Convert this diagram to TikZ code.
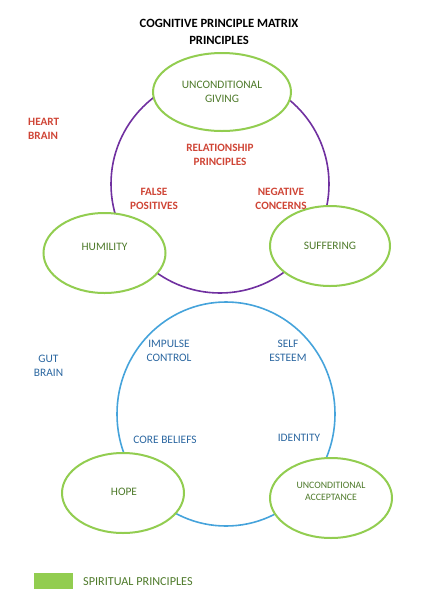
\documentclass[tikz,border=0pt]{standalone}
\usepackage{fontspec}
\setmainfont{Carlito}
\usetikzlibrary{shapes.geometric}
\definecolor{ringpurple}{HTML}{7030A0}
\definecolor{ringblue}{HTML}{45A3DB}
\definecolor{spgreen}{HTML}{92CD50}
\definecolor{txtgreen}{HTML}{4E7A2A}
\definecolor{txtred}{HTML}{CF4536}
\definecolor{txtblue}{HTML}{2A66A0}
\begin{document}
\begin{tikzpicture}[x=1pt,y=-1pt,
  lbl/.style={font=\fontsize{11.4}{14}\selectfont, align=center, inner sep=0pt},
  redlbl/.style={lbl, text=txtred, font=\fontsize{11.2}{14}\selectfont\bfseries},
  bluelbl/.style={lbl, text=txtblue},
  greenlbl/.style={lbl, text=txtgreen},
  spirit/.style={ellipse, draw=spgreen, line width=2pt, fill=white, minimum width=122pt, minimum height=80pt, inner sep=0pt},
]
\useasboundingbox (0,0) rectangle (424,603);
% title
\node[lbl, font=\fontsize{12.6}{17}\selectfont\bfseries] (title) at (219,31.5) {COGNITIVE PRINCIPLE MATRIX\\PRINCIPLES};
% heart ring
\draw[ringpurple, line width=1.6pt] (220,184) circle [radius=109];
\node[spirit, minimum width=138pt, minimum height=78pt] (giving) at (222,92) {};
\node[greenlbl] (givingt) at (222,92) {UNCONDITIONAL\\GIVING};
\node[spirit] (humility) at (104.5,253) {};
\node[greenlbl] (humt) at (104.5,247) {HUMILITY};
\node[spirit, minimum width=120pt] (suffering) at (330,246) {};
\node[greenlbl] (suft) at (330,246) {SUFFERING};
\node[redlbl, align=left, anchor=west] (heart) at (28,128.5) {HEART\\BRAIN};
\node[redlbl] (rel) at (220,155) {RELATIONSHIP\\PRINCIPLES};
\node[redlbl] (false) at (154,199) {FALSE\\POSITIVES};
\node[redlbl] (neg) at (281,199) {NEGATIVE\\CONCERNS};
% gut ring
\draw[ringblue, line width=1.6pt] (226,414) ellipse [x radius=109, y radius=112];
\node[spirit] (hope) at (123,493) {};
\node[greenlbl] (hopet) at (124,492) {HOPE};
\node[spirit] (accept) at (331,498) {};
\node[greenlbl, font=\fontsize{9.8}{12}\selectfont] (acceptt) at (331,491) {UNCONDITIONAL\\ACCEPTANCE};
\node[bluelbl] (gut) at (48.5,365.5) {GUT\\BRAIN};
\node[bluelbl] (impulse) at (169,351) {IMPULSE\\CONTROL};
\node[bluelbl] (self) at (288,351) {SELF\\ESTEEM};
\node[bluelbl] (core) at (165,440) {CORE BELIEFS};
\node[bluelbl] (ident) at (299,438) {IDENTITY};
% legend
\node[fill=spgreen, minimum width=39pt, minimum height=16pt, inner sep=0pt] (legbox) at (53.5,581) {};
\node[greenlbl, anchor=west, font=\fontsize{12.2}{14}\selectfont] (legt) at (83,582) {SPIRITUAL PRINCIPLES};
\end{tikzpicture}
\end{document}
